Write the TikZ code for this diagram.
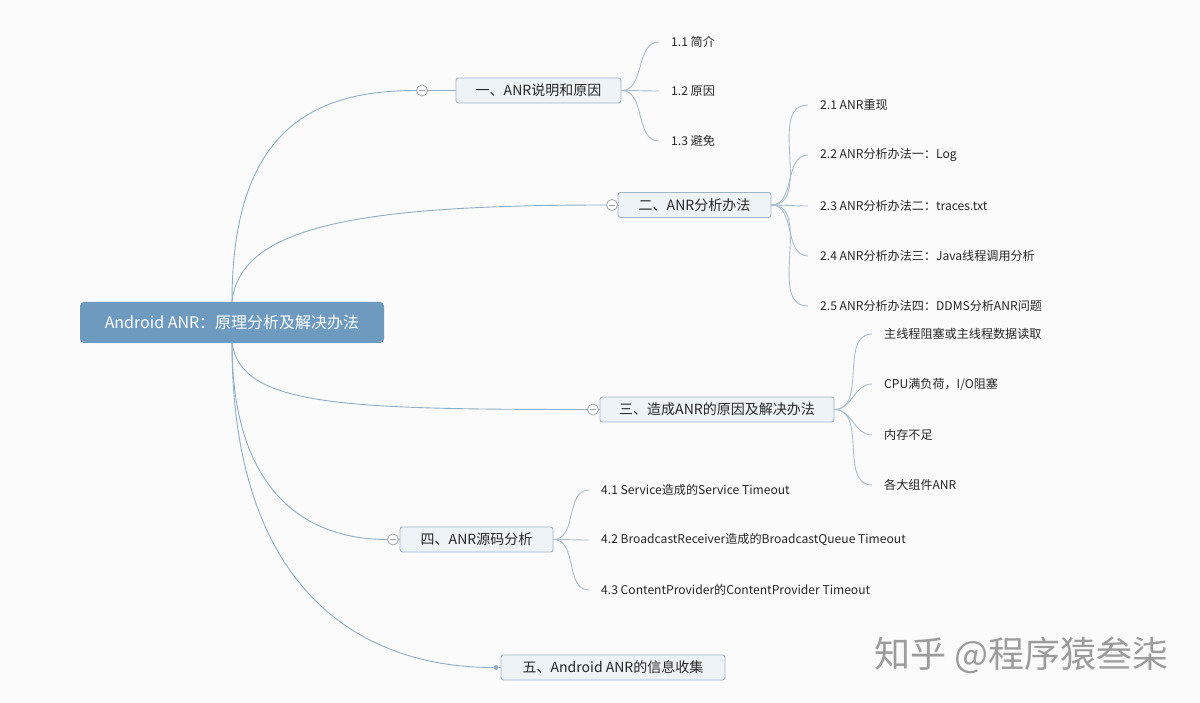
\documentclass[tikz,border=0pt]{standalone}
\usepackage{fontspec}
\setmainfont{Noto Sans CJK SC}
\begin{document}
\begin{tikzpicture}[x=1pt,y=-1pt,
  every node/.style={font=\fontsize{12.1}{14}\selectfont},
  root/.style={rectangle,rounded corners=4pt,fill=rootblue,text=white,minimum width=304pt,minimum height=41pt,inner sep=0pt,font=\fontsize{16}{18}\selectfont},
  branch/.style={rectangle,rounded corners=2.5pt,draw=boxline,line width=0.9pt,fill=boxfill,minimum height=25pt,inner sep=0pt,font=\fontsize{14}{16}\selectfont,text=black!85},
  leaf/.style={anchor=west,inner xsep=12pt,inner ysep=0pt,text=black!85},
  knob/.style={circle,draw=knobgray,fill=white,line width=0.8pt,minimum size=11pt,inner sep=0pt,
    path picture={\draw[knobgray,line width=0.8pt] ([xshift=2.5pt]path picture bounding box.west) -- ([xshift=-2.5pt]path picture bounding box.east);}},
  dot/.style={circle,fill=linecol,minimum size=5pt,inner sep=0pt},
  conn/.style={draw=linecol,line width=0.9pt},
  lconn/.style={draw=leafcol,line width=0.9pt}
]
\definecolor{rootblue}{HTML}{6E9ABF}
\definecolor{boxline}{HTML}{9FB4C7}
\definecolor{boxfill}{HTML}{EEF3F8}
\definecolor{knobgray}{HTML}{A0A4A8}
\definecolor{linecol}{HTML}{8FADC4}
\definecolor{leafcol}{HTML}{A9BCCB}
\definecolor{bg}{HTML}{FBFBFB}
\definecolor{wm}{HTML}{9C9C9C}

\useasboundingbox (0,0) rectangle (1200,703);
\fill[bg] (0,0) rectangle (1200,703);

% root
\node[root] (root) at (232,322.5) {Android ANR：原理分析及解决办法};

% branches
\node[branch,minimum width=165pt] (b1) at (538.5,90.5) {一、ANR说明和原因};
\node[branch,minimum width=153pt] (b2) at (694.5,205) {二、ANR分析办法};
\node[branch,minimum width=234pt] (b3) at (717,409.5) {三、造成ANR的原因及解决办法};
\node[branch,minimum width=153pt] (b4) at (476.5,539.5) {四、ANR源码分析};
\node[branch,minimum width=224pt] (b5) at (613,667.5) {五、Android ANR的信息收集};

% knobs
\node[knob] (c1) at (422,90.5) {};
\node[knob] (c2) at (612,205) {};
\node[knob] (c3) at (593,409.5) {};
\node[knob] (c4) at (393,539.5) {};
\node[dot] (d5) at (496,667.5) {};

\draw[conn] (c1.east) -- (b1.west);
\draw[conn] (c2.east) -- (b2.west);
\draw[conn] (c3.east) -- (b3.west);
\draw[conn] (c4.east) -- (b4.west);
\draw[conn] (d5.east) -- (b5.west);

% root connectors
\draw[conn] (root.north) .. controls +(0,-175) and +(-100,0) .. (c1.west);
\draw[conn] (root.north) .. controls +(8,-75) and +(-250,0) .. (c2.west);
\draw[conn] (root.south) .. controls +(10,62) and +(-250,0) .. (c3.west);
\draw[conn] (root.south) .. controls +(0,150) and +(-80,0) .. (c4.west);
\draw[conn] (root.south) .. controls +(0,250) and +(-130,0) .. (d5.west);

% leaves 1
\node[leaf] (l11) at (659,42) {1.1 简介};
\node[leaf] (l12) at (659,91) {1.2 原因};
\node[leaf] (l13) at (659,141) {1.3 避免};
\foreach \l in {l11,l12,l13} \draw[lconn] (b1.east) to[out=0,in=180] (\l.west);

% leaves 2
\node[leaf] (l21) at (808,105) {2.1 ANR重现};
\node[leaf] (l22) at (808,155) {2.2 ANR分析办法一：Log};
\node[leaf] (l23) at (808,206) {2.3 ANR分析办法二：traces.txt};
\node[leaf] (l24) at (808,256) {2.4 ANR分析办法三：Java线程调用分析};
\node[leaf] (l25) at (808,306) {2.5 ANR分析办法四：DDMS分析ANR问题};
\foreach \l in {l21,l22,l23,l24,l25} \draw[lconn] (b2.east) to[out=0,in=180] (\l.west);

% leaves 3
\node[leaf] (l31) at (872,334) {主线程阻塞或主线程数据读取};
\node[leaf] (l32) at (872,384) {CPU满负荷，I/O阻塞};
\node[leaf] (l33) at (872,435) {内存不足};
\node[leaf] (l34) at (872,485) {各大组件ANR};
\foreach \l in {l31,l32,l33,l34} \draw[lconn] (b3.east) to[out=0,in=180] (\l.west);

% leaves 4
\node[leaf] (l41) at (589,490) {4.1 Service造成的Service Timeout};
\node[leaf] (l42) at (589,540) {4.2 BroadcastReceiver造成的BroadcastQueue Timeout};
\node[leaf] (l43) at (589,590) {4.3 ContentProvider的ContentProvider Timeout};
\foreach \l in {l41,l42,l43} \draw[lconn] (b4.east) to[out=0,in=180] (\l.west);

% watermark
\node[anchor=west,inner sep=0pt,text=wm,font=\fontsize{36}{40}\selectfont] (wmk) at (874,655) {知乎 @程序猿叁柒};
\end{tikzpicture}
\end{document}
